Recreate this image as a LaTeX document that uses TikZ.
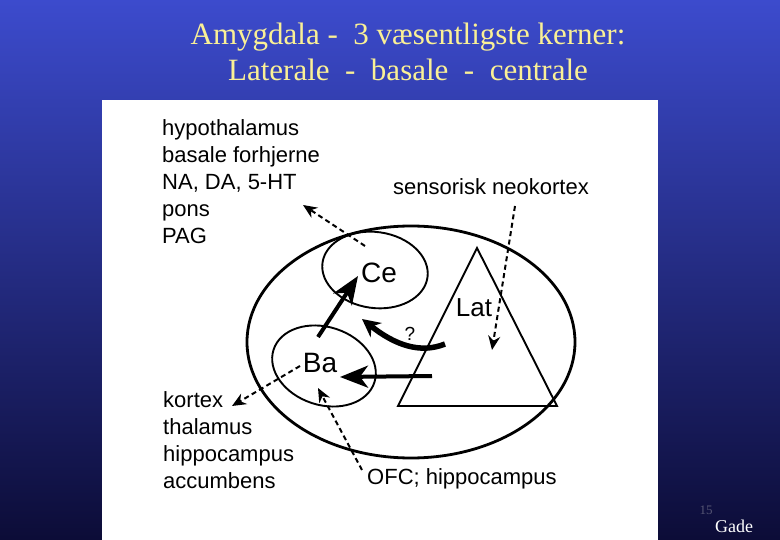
\documentclass[tikz,border=0pt]{standalone}
\usepackage{fontspec}
\setmainfont{Liberation Serif}
\newfontfamily\arial{Liberation Sans}
\usetikzlibrary{arrows.meta}
\definecolor{titlecol}{RGB}{250,240,150}
\definecolor{bgtop}{RGB}{60,75,205}
\definecolor{bgbot}{RGB}{12,12,55}
\begin{document}
\begin{tikzpicture}[x=1pt,y=-1pt,
  lbl/.style={font=\arial\fontsize{22}{26}\selectfont,inner sep=0pt},
  big/.style={font=\arial\fontsize{28}{32}\selectfont,inner sep=0pt},
  lst/.style={lbl,align=left,anchor=north west},
  thin/.style={line width=1.9pt},
  dasharrow/.style={line width=2pt,dash pattern=on 5pt off 3.5pt,-{Stealth[length=14pt,width=12pt]}},
  bigarrow/.style={line width=4pt,-{Stealth[length=28pt,width=22pt,inset=8pt]}}]
\useasboundingbox (0,0) rectangle (780,540);
\shade[top color=bgtop,bottom color=bgbot] (0,0) rectangle (780,540);
\fill[white] (102,100) rectangle (658,540);
\node[titlecol,font=\fontsize{31}{36}\selectfont,align=center] (title) at (408,52) {Amygdala -\ \ 3 væsentligste kerner:\\Laterale\ \ -\ \ basale\ \ -\ \ centrale};
% shapes
\draw[line width=2.8pt] (411,342) ellipse [x radius=164,y radius=116];
\draw[thin,rotate around={-8:(375,270)}] (375,270) ellipse [x radius=53,y radius=38];
\draw[thin,rotate around={-18:(324,366)}] (324,366) ellipse [x radius=53,y radius=39];
\draw[thin] (477,248) -- (557,406) -- (398,406) -- cycle;
% labels
\node[big] (ce) at (379,273) {Ce};
\node[big,font=\arial\fontsize{26}{30}\selectfont] (lat) at (474,308) {Lat};
\node[lbl,font=\arial\fontsize{19}{22}\selectfont] (q) at (410,334) {?};
\node[big] (ba) at (320,363) {Ba};
\node[lst] (top) at (162,119) {hypothalamus\\[1pt]basale forhjerne\\[1pt]NA, DA, 5-HT\\[1pt]pons\\[1pt]PAG};
\node[lst] (bot) at (163,391) {kortex\\[1pt]thalamus\\[1pt]hippocampus\\[1pt]accumbens};
\node[lbl,anchor=west] (sens) at (393,187) {sensorisk neokortex};
\node[lbl,anchor=west] (ofc) at (367,479) {OFC; hippocampus};
\node[font=\fontsize{13}{15}\selectfont,text=bgbot!70!white] (num) at (706,510) {15};
\node[white,font=\fontsize{18}{21}\selectfont] (gade) at (734,526) {Gade};
% connectors
\coordinate (c1) at (365,246); \coordinate (h1) at (303,205);
\draw[dasharrow] (c1) -- (h1);
\coordinate (s1) at (515,206); \coordinate (s2) at (492,350);
\draw[dasharrow] (s1) -- (s2);
\coordinate (b1) at (300,366); \coordinate (k1) at (232,406);
\draw[dasharrow] (b1) -- (k1);
\coordinate (o1) at (362,470); \coordinate (o2) at (318,388);
\draw[dasharrow] (o1) -- (o2);
\coordinate (ba1) at (318,337); \coordinate (ce1) at (358,276);
\draw[bigarrow] (ba1) -- (ce1);
\coordinate (l1) at (432,376); \coordinate (ba2) at (340,377);
\draw[bigarrow] (l1) -- (ba2);
\coordinate (q1) at (445,344); \coordinate (q2) at (362,319);
\draw[line width=5.5pt,-{Stealth[length=18pt,width=18pt]}] (q1) .. controls (420,354) and (395,345) .. (q2);
\end{tikzpicture}
\end{document}
